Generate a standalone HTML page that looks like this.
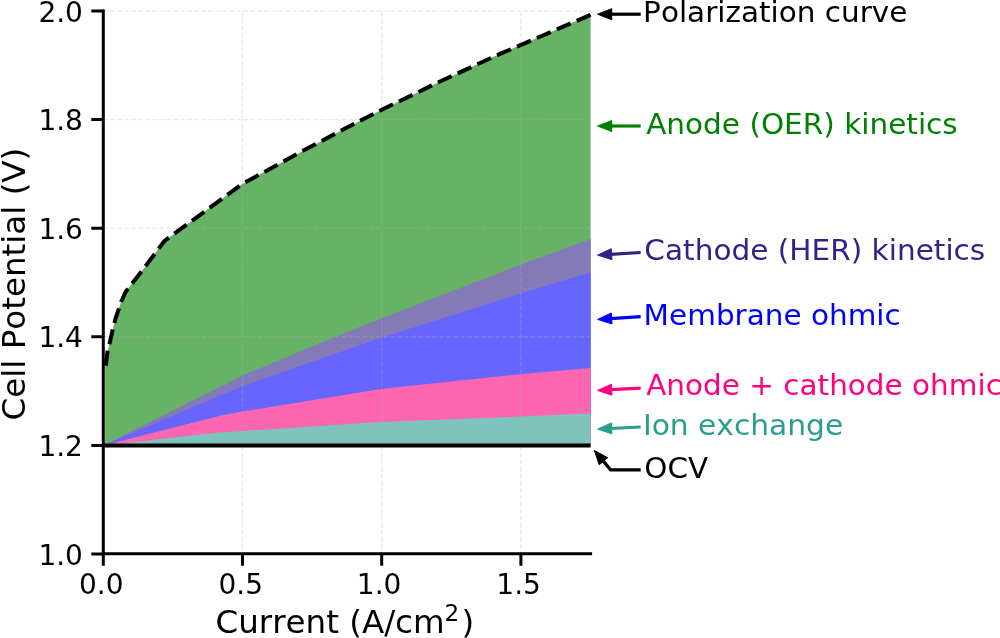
<!DOCTYPE html>
<html lang="en">
<head>
<meta charset="utf-8">
<title>Polarization curve breakdown</title>
<style>
html,body{margin:0;padding:0;background:#fff;}
body{width:1000px;height:638px;overflow:hidden;}
svg{display:block;}
</style>
</head>
<body>
<svg width="1000" height="638" viewBox="0 0 1000 638">
<rect width="1000" height="638" fill="#fff"/>
<polygon points="105.1,366.6 105.8,365.8 107.6,351.2 109.5,343.7 112.5,330.6 115.5,318.5 118.6,309.6 121.1,302.0 125.4,292.2 134.1,281.0 141.1,272.0 164.6,240.8 242.3,184.0 300.0,152.4 348.0,127.0 380.8,110.2 440.0,81.5 500.6,53.6 520.6,45.1 590.6,14.8 590.6,445.6 105.1,445.6" fill="#66b366"/>
<polygon points="103.3,445.6 242.3,375.5 348.0,331.6 381.0,318.6 520.4,264.8 590.6,238.9 590.6,445.6 103.3,445.6" fill="#857ab8"/>
<polygon points="103.3,445.6 220.0,395.6 242.3,386.2 381.0,337.8 520.4,293.6 590.6,272.2 590.6,445.6 103.3,445.6" fill="#6666ff"/>
<polygon points="103.3,445.6 220.0,415.8 242.3,411.6 381.0,389.0 520.4,374.2 590.6,368.1 590.6,445.6 103.3,445.6" fill="#ff66b2"/>
<polygon points="103.3,445.6 220.0,432.2 242.3,430.9 381.0,422.0 520.4,416.5 590.6,413.5 590.6,445.6 103.3,445.6" fill="#7fc4bc"/>
<path d="M103.3,555.5V11 M242.5,555.5V11 M381.7,555.5V11 M520.9,555.5V11 M103.3,554.0H590.6 M103.3,445.4H590.6 M103.3,336.8H590.6 M103.3,228.2H590.6 M103.3,119.6H590.6 M103.3,11.0H590.6" fill="none" stroke="#b0b0b0" stroke-opacity="0.27" stroke-width="1.4" stroke-dasharray="4.8 2.2"/>
<path d="M103.3,445.6H590.6" stroke="#000" stroke-width="4" fill="none"/>
<polyline points="105.8,365.8 107.6,351.2 109.5,343.7 112.5,330.6 115.5,318.5 118.6,309.6 121.1,302.0 125.4,292.2 134.1,281.0 141.1,272.0 164.6,240.8 242.3,184.0" fill="none" stroke="#000" stroke-width="4" stroke-dasharray="15.23 6.65" stroke-linejoin="round"/>
<polyline points="590.6,14.8 520.6,45.1 500.6,53.6 440.0,81.5 380.8,110.2 348.0,127.0 300.0,152.4 242.3,184.0" fill="none" stroke="#000" stroke-width="4" stroke-dasharray="15.1 6.6" stroke-linejoin="round"/>
<path d="M103.3,9.5V555.3 M101.8,553.8H592.1" stroke="#000" stroke-width="3" fill="none"/>
<path d="M103.3,553.8V565.7 M242.5,553.8V565.7 M381.7,553.8V565.7 M520.9,553.8V565.7 M103.3,554.0H91.3 M103.3,445.4H91.3 M103.3,336.8H91.3 M103.3,228.2H91.3 M103.3,119.6H91.3 M103.3,11.0H91.3" stroke="#000" stroke-width="3" fill="none"/>
<g font-family="'DejaVu Sans', 'Liberation Sans', sans-serif" font-size="28" fill="#000" style="font-kerning:none">
<text transform="translate(79.04,593.60) scale(1.0000,1)" font-size="28" fill="#000">0.0</text>
<text transform="translate(218.54,593.60) scale(1.0000,1)" font-size="28" fill="#000">0.5</text>
<text transform="translate(356.83,593.60) scale(1.0000,1)" font-size="28" fill="#000">1.0</text>
<text transform="translate(496.32,593.60) scale(1.0000,1)" font-size="28" fill="#000">1.5</text>
<text x="38.4" y="564.5">1.0</text>
<text x="38.4" y="455.9">1.2</text>
<text x="38.4" y="347.3">1.4</text>
<text x="38.4" y="238.7">1.6</text>
<text x="38.4" y="130.1">1.8</text>
<text x="38.4" y="21.5">2.0</text>
<text transform="translate(215.47,632.90) scale(1.0166,1)" font-size="32" fill="#000">Current (A/cm</text>
<text transform="translate(444.61,621.30) scale(1.0319,1)" font-size="22.4" fill="#000">2</text>
<text transform="translate(461.59,632.90) scale(1.0179,1)" font-size="32" fill="#000">)</text>
<text transform="translate(24.8,420.43) rotate(-90) scale(1.0167,1)" font-size="32">Cell Potential (V)</text>
<polyline points="640.7,14.2 610.2,14.2" fill="none" stroke="#000" stroke-width="3.2" stroke-linecap="butt" stroke-linejoin="miter"/>
<polygon points="597.6,14.2 611.7,19.7 611.7,8.7" fill="#000" stroke="#000" stroke-width="1" stroke-linejoin="round"/>
<text transform="translate(643.11,21.60) scale(1.0385,1)" font-size="28.4" fill="#000">Polarization curve</text>
<polyline points="640.7,126.0 610.2,126.0" fill="none" stroke="#008000" stroke-width="3.2" stroke-linecap="butt" stroke-linejoin="miter"/>
<polygon points="597.6,126.0 611.7,131.5 611.7,120.5" fill="#008000" stroke="#008000" stroke-width="1" stroke-linejoin="round"/>
<text transform="translate(646.17,133.60) scale(1.0396,1)" font-size="28.4" fill="#008000">Anode (OER) kinetics</text>
<polyline points="640.7,252.5 610.2,254.3" fill="none" stroke="#332288" stroke-width="3.2" stroke-linecap="butt" stroke-linejoin="miter"/>
<polygon points="597.6,255.1 612.0,259.7 611.3,248.7" fill="#332288" stroke="#332288" stroke-width="1" stroke-linejoin="round"/>
<text transform="translate(644.34,260.00) scale(1.0408,1)" font-size="28.4" fill="#332288">Cathode (HER) kinetics</text>
<polyline points="640.7,316.6 610.2,318.6" fill="none" stroke="#0000ff" stroke-width="3.2" stroke-linecap="butt" stroke-linejoin="miter"/>
<polygon points="597.6,319.4 612.0,323.9 611.3,313.0" fill="#0000ff" stroke="#0000ff" stroke-width="1" stroke-linejoin="round"/>
<text transform="translate(643.61,325.00) scale(1.0381,1)" font-size="28.4" fill="#0000ff">Membrane ohmic</text>
<polyline points="640.7,388.2 610.2,389.7" fill="none" stroke="#ff007f" stroke-width="3.2" stroke-linecap="butt" stroke-linejoin="miter"/>
<polygon points="597.6,390.4 612.0,395.2 611.4,384.2" fill="#ff007f" stroke="#ff007f" stroke-width="1" stroke-linejoin="round"/>
<text transform="translate(646.17,395.40) scale(1.0382,1)" font-size="28.4" fill="#ff007f">Anode + cathode ohmic</text>
<polyline points="640.7,427.0 610.2,428.5" fill="none" stroke="#2a9d8f" stroke-width="3.2" stroke-linecap="butt" stroke-linejoin="miter"/>
<polygon points="597.6,429.1 611.9,433.9 611.4,422.9" fill="#2a9d8f" stroke="#2a9d8f" stroke-width="1" stroke-linejoin="round"/>
<text transform="translate(642.88,435.00) scale(1.0466,1)" font-size="28.4" fill="#2a9d8f">Ion exchange</text>
<polyline points="640.7,469.8 610.6,469.8 602.5,460.1" fill="none" stroke="#000" stroke-width="3.2" stroke-linecap="butt" stroke-linejoin="miter"/>
<polygon points="594.4,450.5 599.2,464.8 607.7,457.7" fill="#000" stroke="#000" stroke-width="1" stroke-linejoin="round"/>
<text transform="translate(644.35,477.70) scale(1.0354,1)" font-size="28.4" fill="#000">OCV</text>
</g>
</svg>
</body>
</html>
